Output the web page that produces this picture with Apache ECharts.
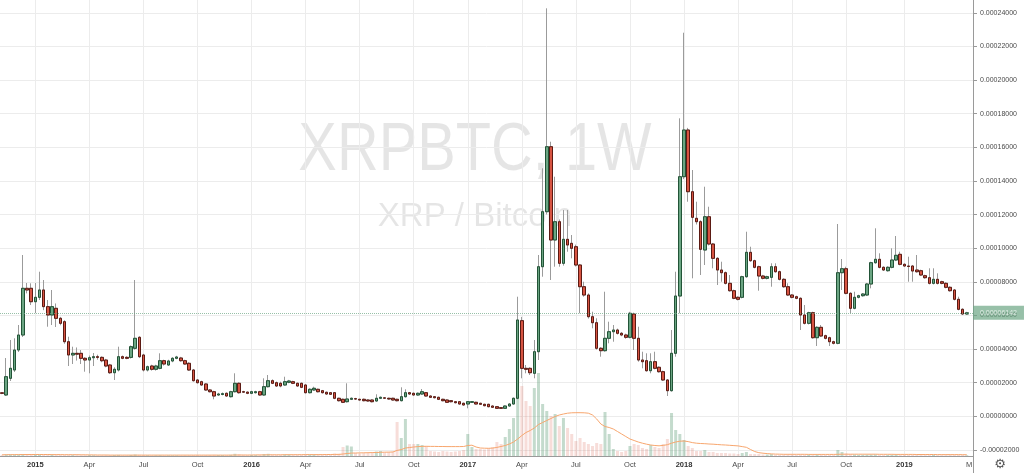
<!DOCTYPE html>
<html>
<head>
<meta charset="utf-8">
<title>XRPBTC, 1W</title>
<script src="https://cdn.jsdelivr.net/npm/echarts@6/dist/echarts.min.js"></script>
<style>
  html, body { margin: 0; padding: 0; background: #fff; }
  #chart { width: 1024px; height: 473px; }
</style>
</head>
<body>
<div id="chart"></div>
<script>
// weekly XRP/BTC candles, prices in satoshi (1e-8 BTC), first bar = week of 2014-11-03
const firstWeek = "2014-11-03"

const open = [
  1380, 1250, 2244, 2738, 3928, 4821, 7601, 7601, 6803, 7064,
  7501, 6509, 6012, 6410, 5815, 5613, 4422, 3631, 3730, 3730,
  3434, 3333, 3470, 3530, 3490, 3330, 3035, 2577, 2738, 3530,
  3490, 3490, 4030, 4684, 3631, 2738, 2976, 2780, 2839, 3292,
  3035, 3274, 3434, 3452, 3292, 3137, 2738, 2143, 2042, 1905,
  1548, 1446, 1250, 1280, 1351, 1150, 1446, 1946, 1446, 1420,
  1351, 1387, 1446, 1250, 1744, 2101, 1982, 1946, 1845, 2006,
  2042, 1946, 1946, 1845, 1387, 1548, 1589, 1506, 1411, 1387,
  1387, 1054, 994, 851, 994, 1030, 994, 994, 952, 952,
  893, 1054, 1080, 1054, 1054, 994, 911, 1149, 1387, 1351,
  1250, 1309, 1387, 1190, 1149, 1113, 994, 952, 911, 851,
  851, 756, 714, 815, 815, 756, 696, 696, 595, 554,
  494, 458, 595, 714, 1054, 5675, 2837, 2837, 2541, 3827,
  8886, 12160, 16029, 10476, 11565, 9089, 10517, 10279, 10077, 8988,
  7696, 7202, 5910, 5553, 4030, 3887, 4625, 5017, 5119, 4922,
  4821, 4684, 6071, 4625, 3333, 3292, 2696, 3232, 2899, 2637,
  2143, 1506, 3732, 7142, 14243, 17023, 13351, 11767, 11565, 9880,
  11862, 10237, 9386, 8690, 8529, 7898, 7458, 7065, 7065, 8291,
  9743, 9243, 8886, 8333, 8196, 8255, 8886, 8589, 8136, 7696,
  7202, 7101, 7006, 6012, 5518, 6149, 4660, 5279, 4780, 4660,
  4422, 4327, 8529, 8767, 7303, 6410, 7065, 7160, 7202, 7857,
  9124, 9327, 8851, 8648, 8851, 9285, 9624, 9029, 8928, 8928,
  8690, 8648, 8351, 8232, 7898, 8136, 7993, 7898, 7660, 7500,
  6946, 6351, 6071
]

const close = [
  1350, 2340, 2839, 3928, 4821, 7601, 7500, 6803, 7064, 7501,
  6509, 6012, 6509, 5815, 5518, 4422, 3631, 3730, 3680, 3434,
  3333, 3470, 3530, 3490, 3290, 2976, 2577, 2780, 3530, 3434,
  3434, 4125, 4625, 3530, 2738, 2934, 2780, 2976, 3292, 3095,
  3274, 3434, 3512, 3292, 3095, 2738, 2101, 1982, 1845, 1548,
  1446, 1190, 1309, 1330, 1190, 1446, 1946, 1387, 1420, 1351,
  1446, 1446, 1250, 1744, 2101, 1946, 1786, 1786, 2042, 2083,
  1946, 1786, 1708, 1387, 1589, 1649, 1446, 1387, 1309, 1292,
  1054, 911, 815, 1012, 1054, 1010, 952, 911, 893, 851,
  1054, 1113, 1060, 1012, 952, 911, 1149, 1387, 1309, 1250,
  1351, 1446, 1190, 1113, 1089, 994, 911, 815, 851, 792,
  714, 655, 851, 851, 714, 696, 613, 554, 518, 458,
  458, 595, 714, 1054, 5715, 2837, 2780, 2577, 3827, 8886,
  12160, 16029, 10476, 11565, 9089, 10517, 10178, 9982, 8988, 7696,
  7202, 5910, 5553, 4030, 3887, 4625, 5017, 5119, 4922, 4821,
  4684, 6113, 4625, 3333, 3232, 2696, 3232, 2839, 2637, 2143,
  1506, 3732, 7142, 14243, 17023, 13351, 11827, 11565, 9922, 11862,
  10237, 9386, 8690, 8529, 7898, 7458, 7006, 6946, 8291, 9743,
  9243, 8851, 8333, 8196, 8291, 8886, 8589, 8136, 7696, 7202,
  7065, 7006, 6012, 5518, 6149, 4660, 5279, 4762, 4625, 4422,
  4327, 8529, 8767, 7303, 6410, 7065, 7160, 7261, 7857, 9124,
  9327, 8851, 8690, 8851, 9285, 9565, 9029, 8928, 8900, 8630,
  8589, 8392, 8232, 7898, 8136, 7898, 7898, 7660, 7458, 6946,
  6351, 6071, 6142
]

const low = [
  1300, 1190, 2083, 2619, 3809, 4702, 7300, 6607, 6131, 6904,
  6300, 5315, 5416, 5297, 5400, 4300, 2976, 3095, 3300, 3095,
  2637, 2541, 2976, 3350, 3200, 2900, 2500, 2143, 2650, 3380,
  3380, 3420, 3950, 3450, 2650, 2650, 2700, 2700, 2780, 3000,
  2980, 3200, 3380, 3230, 3050, 2680, 2050, 1930, 1800, 1500,
  1400, 994, 1200, 1230, 1150, 1100, 1400, 1330, 1380, 1300,
  1300, 1340, 1200, 1200, 1700, 1900, 1730, 1708, 1800, 1950,
  1900, 1740, 1660, 1340, 1340, 1500, 1400, 1340, 1260, 1250,
  1000, 860, 770, 800, 950, 960, 910, 870, 850, 810,
  850, 1010, 1020, 970, 910, 870, 870, 1100, 1260, 1200,
  1200, 1260, 1150, 1070, 1050, 950, 870, 780, 810, 750,
  680, 620, 458, 780, 680, 660, 580, 520, 480, 420,
  420, 420, 560, 680, 1000, 2244, 2541, 2440, 2244, 3333,
  8291, 12000, 8095, 8886, 8886, 8950, 9779, 9386, 8900, 6113,
  7100, 5800, 5220, 3950, 3530, 3830, 4327, 4422, 4850, 4750,
  4600, 4620, 3928, 3232, 2839, 2640, 2541, 2780, 2580, 2080,
  1190, 1450, 3530, 6113, 14100, 12755, 8196, 11400, 8392, 8988,
  10150, 8791, 7797, 7993, 7830, 7400, 6950, 6880, 7000, 8230,
  9180, 8790, 7458, 8130, 8130, 7696, 8530, 8070, 7630, 7140,
  7000, 6950, 5119, 5450, 5450, 4600, 4166, 4700, 4560, 4166,
  4260, 4270, 7500, 7240, 6113, 6350, 7000, 7100, 7140, 7600,
  9060, 8790, 8630, 8590, 8790, 9220, 8970, 8870, 7993, 7993,
  8530, 8330, 8170, 7830, 7830, 7830, 7840, 7600, 7400, 6880,
  6290, 6010, 6020
]

const high = [
  1420, 3450, 4524, 4625, 5416, 9583, 7916, 7898, 7916, 8589,
  8095, 6904, 7500, 6700, 5900, 5700, 4720, 4125, 4080, 3928,
  3500, 3600, 3750, 3650, 3550, 3400, 3100, 2900, 4125, 3600,
  3560, 4200, 8095, 4750, 3700, 3000, 3050, 3050, 3732, 3350,
  3350, 3500, 3580, 3520, 3350, 3200, 2800, 2200, 2100, 1950,
  1600, 1500, 1380, 1400, 1400, 1500, 2541, 2000, 1500, 1460,
  1500, 1500, 1500, 2244, 2440, 2180, 2050, 2042, 2339, 2150,
  2100, 1990, 1990, 1900, 1650, 1744, 1630, 1550, 1450, 1430,
  1420, 1090, 1040, 1946, 1100, 1080, 1030, 1040, 990, 990,
  1292, 1160, 1120, 1090, 1090, 1030, 1708, 1589, 1430, 1400,
  1400, 1607, 1430, 1230, 1190, 1150, 1030, 990, 950, 890,
  890, 800, 890, 890, 850, 790, 730, 730, 630, 590,
  530, 630, 750, 1100, 7101, 5900, 3035, 2900, 4524, 9583,
  14743, 24267, 16327, 14243, 11700, 12261, 12261, 10773, 10200, 9050,
  7993, 7300, 6208, 5815, 4100, 7398, 5613, 5416, 5200, 5000,
  4900, 6200, 6150, 5315, 3827, 3732, 3732, 3827, 2950, 2700,
  2200, 5119, 8589, 17719, 22814, 17150, 14642, 12755, 11650, 13648,
  12457, 10300, 9450, 9184, 8600, 8392, 7520, 7120, 8350, 10970,
  10077, 9300, 8950, 8400, 8350, 9089, 9089, 8650, 8200, 7898,
  7260, 7160, 7060, 6607, 6208, 6208, 5340, 5416, 4840, 4720,
  4480, 11428, 9345, 8886, 7360, 7398, 7220, 7320, 7920, 9180,
  11172, 9684, 8910, 8910, 9982, 10714, 9779, 9090, 9482, 8990,
  9583, 8710, 8410, 8791, 8791, 8493, 8050, 7960, 7720, 7560,
  7101, 6410, 6200
]

// relative weekly volume and its moving average (same relative units)
const volume = [
  1.2, 1.5, 1.8, 1.6, 1.5, 2.0, 1.8, 1.5, 1.4, 1.6,
  1.3, 1.2, 1.1, 1.0, 1.0, 1.1, 1.2, 0.9, 0.8, 0.8,
  0.8, 0.9, 0.8, 0.7, 0.8, 0.9, 0.9, 1.0, 1.1, 0.8,
  0.8, 1.0, 1.5, 1.2, 1.0, 0.8, 0.8, 0.7, 0.8, 0.8,
  0.7, 0.7, 0.7, 0.7, 0.8, 0.9, 1.0, 0.9, 0.9, 1.0,
  1.0, 1.2, 1.0, 1.0, 1.0, 1.2, 2.2, 1.8, 1.2, 1.0,
  1.0, 1.0, 1.1, 2.0, 2.2, 1.5, 1.3, 1.2, 1.5, 1.2,
  1.2, 1.3, 1.3, 1.6, 1.4, 1.3, 1.5, 1.5, 1.6, 1.7,
  2.5, 2.2, 9.0, 10.5, 9.5, 3.0, 2.5, 3.0, 3.0, 3.5,
  4.5, 5.0, 3.5, 4.0, 4.5, 34, 18, 37, 12, 12,
  12, 11, 10, 5.0, 4.5, 4.0, 5.0, 4.5, 4.0, 4.5,
  5.0, 6.0, 22, 9, 7, 7, 6.5, 8, 9, 14,
  12, 19, 27, 38, 62, 70, 55, 50, 68, 83,
  52, 45, 40, 42, 30, 38, 28, 22, 15, 18,
  14, 12, 10, 13, 12, 44, 22, 7, 5, 4,
  5, 10, 12, 11, 8, 7, 11, 9, 8, 12,
  17, 43, 26, 22, 16, 10, 8, 5, 5, 6,
  4, 4, 3, 3, 3, 2.5, 2.5, 2, 3, 4,
  2, 2, 2, 1.5, 1.5, 2, 1.3, 1.2, 1.2, 1.2,
  1.2, 1.1, 1.5, 1.3, 1.2, 1.4, 1.2, 1.1, 1.0, 1.0,
  1.0, 6.0, 4.0, 2.5, 2.0, 1.5, 1.2, 1.2, 1.3, 1.5,
  1.6, 1.3, 1.1, 1.0, 1.2, 1.3, 1.1, 1.0, 1.0, 1.0,
  1.0, 0.9, 0.9, 1.0, 1.0, 0.9, 0.9, 0.9, 1.0, 1.1,
  1.2, 1.2, 0.8
]

const volumeMA = [
  1.2, 1.3, 1.3, 1.4, 1.4, 1.5, 1.5, 1.5, 1.5, 1.5,
  1.5, 1.5, 1.4, 1.4, 1.4, 1.3, 1.3, 1.3, 1.3, 1.2,
  1.2, 1.1, 1.1, 1.0, 1.0, 1.0, 0.9, 0.9, 0.9, 0.9,
  0.9, 0.9, 0.9, 0.9, 0.9, 0.9, 0.9, 0.9, 0.9, 0.9,
  0.9, 0.9, 0.9, 0.9, 0.9, 0.9, 0.9, 0.9, 0.9, 0.9,
  0.9, 0.9, 0.9, 0.9, 0.9, 0.9, 1.0, 1.0, 1.0, 1.0,
  1.0, 1.1, 1.1, 1.1, 1.2, 1.2, 1.2, 1.2, 1.3, 1.3,
  1.3, 1.3, 1.3, 1.4, 1.4, 1.4, 1.4, 1.4, 1.5, 1.5,
  1.6, 1.6, 2.0, 2.5, 2.9, 3.0, 3.1, 3.2, 3.3, 3.4,
  3.5, 3.7, 3.8, 3.9, 4.0, 5.6, 6.4, 8.0, 8.5, 9.0,
  9.4, 9.6, 9.7, 9.6, 9.6, 9.5, 9.5, 9.4, 9.4, 9.4,
  9.4, 9.5, 10.5, 10.8, 9.0, 8.0, 7.8, 7.7, 7.9, 8.6,
  9.5, 10.5, 12, 14, 17, 20.5, 23.5, 25.5, 28, 31.5,
  33.5, 35.5, 37.5, 39.5, 41, 42, 42.8, 43.2, 43.3, 43.3,
  43.2, 42.8, 41, 37, 32, 29.5, 28.5, 27, 24.5, 22,
  19.5, 17, 15.5, 14, 12.8, 11.8, 11, 10.5, 10.2, 10.6,
  11.3, 12.8, 14, 14.8, 15, 14.4, 13.4, 12.8, 12.5, 12.3,
  12, 11.8, 11.5, 11.2, 11, 10.7, 10.4, 10.1, 9.4, 8.7,
  6.5, 4.5, 3.3, 2.8, 2.4, 2.1, 1.9, 1.8, 1.7, 1.7,
  1.7, 1.7, 1.7, 1.7, 1.6, 1.6, 1.6, 1.6, 1.6, 1.6,
  1.6, 1.7, 1.8, 1.8, 1.8, 1.8, 1.8, 1.8, 1.8, 1.8,
  1.8, 1.7, 1.7, 1.7, 1.7, 1.6, 1.6, 1.6, 1.6, 1.6,
  1.5, 1.5, 1.5, 1.5, 1.5, 1.4, 1.4, 1.4, 1.4, 1.4,
  1.4, 1.3, 1.3
]

// price scale ticks (satoshi)
const priceTickMin = -2000
const priceTickMax = 24000
const priceTickStep = 2000

// time scale tick labels: week they sit on, and their text
const tickWeeks = [
  "2014-12-29", "2015-03-30", "2015-06-29", "2015-09-28",
  "2015-12-28", "2016-03-28", "2016-06-27", "2016-09-26",
  "2016-12-26", "2017-03-27", "2017-06-26", "2017-09-25",
  "2017-12-25", "2018-03-26", "2018-06-25", "2018-09-24",
  "2018-12-31"
]
const tickTexts = [
  "2015", "Apr", "Jul", "Oct",
  "2016", "Apr", "Jul", "Oct",
  "2017", "Apr", "Jul", "Oct",
  "2018", "Apr", "Jul", "Oct",
  "2019"
]

const upColor = "#6ba583"
const downColor = "#d75442"
const gridColor = "#ececec"
const textColor = "#4a4a4a"
const font = "Liberation Sans"

// weekly categories (one empty slot after the last bar)
let weeks = []
let t0 = Date.parse(firstWeek + "T00:00:00Z")
for (let i = 0; i <= open.length; i++) {
  weeks.push(new Date(t0 + i * 7 * 86400000).toISOString().slice(0, 10))
}

function tickText(week) {
  let k = tickWeeks.indexOf(week)
  if (k < 0) return ""
  let t = tickTexts[k]
  return /^\d{4}$/.test(t) ? "{b|" + t + "}" : t
}
const showTick = (idx, val) => tickWeeks.indexOf(val) >= 0

let wicks = open.map((o, i) => [o, close[i], low[i], high[i]])
let bodies = open.map((o, i) => [o, close[i], Math.min(o, close[i]), Math.max(o, close[i])])
let last = close[close.length - 1]
const fmtPrice = (v) => (v / 1e8).toFixed(8)

let myChart = echarts.init(document.getElementById("chart"))
myChart.setOption({
  animation: false,
  textStyle: { fontFamily: font },
  grid: [
    { left: 0, right: 51, top: 0, bottom: 17 },
    { left: 0, right: 51, top: 12.8, bottom: 23 },
  ],
  xAxis: [
    {
      type: "category",
      gridIndex: 0,
      data: weeks,
      boundaryGap: true,
      axisLine: { onZero: false, lineStyle: { color: "#9a9a9a" } },
      axisTick: { show: false },
      axisLabel: {
        interval: showTick,
        formatter: tickText,
        fontSize: 7.5,
        color: textColor,
        margin: 5,
        rich: { b: { fontWeight: "bold", fontSize: 7.5, color: "#333" } },
      },
      splitLine: {
        show: true,
        interval: showTick,
        alignWithLabel: true,
        lineStyle: { color: gridColor, width: 1 },
      },
    },
    { type: "value", gridIndex: 1, show: false, min: 0, max: 1, axisLine: { onZero: false } },
  ],
  yAxis: [
    {
      type: "value",
      gridIndex: 0,
      position: "right",
      min: -2381,
      max: 24762,
      axisLine: { show: true, onZero: false, lineStyle: { color: "#9a9a9a" } },
      axisTick: { show: false },
      axisLabel: { show: false },
      splitLine: { show: false },
    },
    {
      type: "value",
      gridIndex: 1,
      position: "right",
      min: priceTickMin,
      max: priceTickMax,
      interval: priceTickStep,
      axisLine: { show: false, onZero: false },
      axisTick: { show: true, length: 4, lineStyle: { color: "#9a9a9a" } },
      axisLabel: { fontSize: 7, color: textColor, margin: 7, formatter: fmtPrice },
      splitLine: { show: true, lineStyle: { color: gridColor, width: 1 } },
    },
    {
      type: "value", gridIndex: 0, position: "left", show: false,
      min: 0, max: 456, axisLine: { onZero: false },
    },
  ],
  series: [
    {
      name: "Volume",
      type: "bar",
      xAxisIndex: 0,
      yAxisIndex: 2,
      data: volume,
      barWidth: 3,
      itemStyle: {
        color: (p) => close[p.dataIndex] >= open[p.dataIndex]
          ? "rgba(107,165,131,0.4)" : "rgba(215,84,66,0.2)",
      },
    },
    {
      name: "Volume MA",
      type: "line",
      xAxisIndex: 0,
      yAxisIndex: 2,
      data: volumeMA,
      symbol: "none",
      lineStyle: { color: "#f7a66e", width: 1 },
    },
    {
      name: "wicks",
      type: "candlestick",
      xAxisIndex: 0,
      yAxisIndex: 0,
      data: wicks,
      barWidth: 3,
      itemStyle: {
        color: "#9b9b9b", color0: "#9b9b9b",
        borderColor: "#9b9b9b", borderColor0: "#9b9b9b", borderWidth: 1,
      },
    },
    {
      name: "XRPBTC",
      type: "candlestick",
      xAxisIndex: 0,
      yAxisIndex: 0,
      data: bodies,
      barWidth: 3,
      itemStyle: {
        color: upColor, color0: downColor,
        borderColor: "#225437", borderColor0: "#5b1a13", borderWidth: 1,
      },
      markLine: {
        silent: true,
        symbol: ["none", "none"],
        data: [{ yAxis: last }],
        lineStyle: { type: "dotted", color: "#6ba583", width: 1, opacity: 0.7 },
        label: {
          position: "end",
          distance: 0,
          formatter: () => fmtPrice(last),
          color: "#fff",
          fontSize: 7,
          backgroundColor: "#6ba583",
          padding: [4, 7, 3, 7],
        },
      },
    },
  ],
  graphic: [
    {
      type: "text", x: 475, y: 151, scaleX: 0.85, z: -1, silent: true,
      style: {
        text: "XRPBTC, 1W", x: 0, y: 0, fill: "rgba(0,0,0,0.1)",
        font: '68px "Liberation Sans"', align: "center", verticalAlign: "middle",
        textAlign: "center", textVerticalAlign: "middle",
      },
    },
    {
      type: "text", x: 475, y: 217, z: -1, silent: true,
      style: {
        text: "XRP / Bitcoin", x: 0, y: 0, fill: "rgba(0,0,0,0.1)",
        font: '33px "Liberation Sans"', align: "center", verticalAlign: "middle",
        textAlign: "center", textVerticalAlign: "middle",
      },
    },
    {
      type: "text", x: 969, y: 465, silent: true,
      style: {
        text: "M", x: 0, y: 0, fill: textColor, font: '7.5px "Liberation Sans"',
        align: "center", verticalAlign: "middle", textAlign: "center", textVerticalAlign: "middle",
      },
    },
    {
      type: "text", x: 1000, y: 465, silent: true,
      style: {
        text: "\u2699", x: 0, y: 0, fill: "#555", font: '13px "DejaVu Sans"',
        align: "center", verticalAlign: "middle", textAlign: "center", textVerticalAlign: "middle",
      },
    },
    {
      type: "line", silent: true,
      shape: { x1: 973.5, y1: 456, x2: 973.5, y2: 473 },
      style: { stroke: "#9a9a9a", lineWidth: 1 },
    },
  ],
})
</script>
</body>
</html>
